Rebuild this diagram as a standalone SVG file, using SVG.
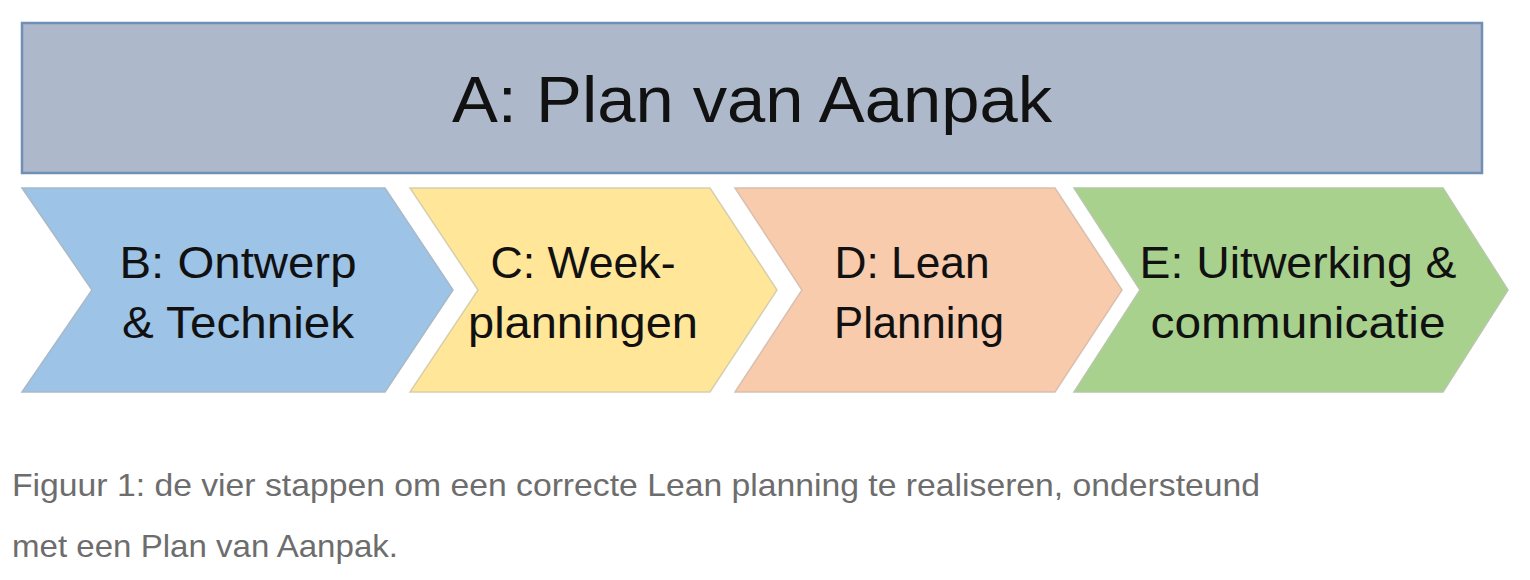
<svg xmlns="http://www.w3.org/2000/svg" width="1530" height="580" viewBox="0 0 1530 580">
<style>
.lbl{font-family:"Liberation Sans",Arial,sans-serif;font-size:45px;fill:#111;text-anchor:middle}
.title{font-family:"Liberation Sans",Arial,sans-serif;font-size:64px;fill:#111;text-anchor:middle}
.cap{font-family:"Liberation Sans",Arial,sans-serif;font-size:32px;fill:#6d6d6d}
.chev{stroke-width:1.5;stroke-linejoin:miter}
</style>
<rect width="1530" height="580" fill="#ffffff"/>
<g id="A">
<rect x="22" y="23" width="1460" height="150" fill="#adb9ca" stroke="#6f8fb5" stroke-width="2.5"/>
<text class="title" x="752" y="122" textLength="600" lengthAdjust="spacingAndGlyphs">A: Plan van Aanpak</text>
</g>
<g id="B">
<polygon class="chev" points="22,188 385,188 453,290 385,392 22,392 92,290" fill="#9dc3e6" stroke="#a9b9c9"/>
<text class="lbl" x="238" y="278" textLength="237" lengthAdjust="spacingAndGlyphs">B: Ontwerp</text>
<text class="lbl" x="238" y="338" textLength="232" lengthAdjust="spacingAndGlyphs">&amp; Techniek</text>
</g>
<g id="C">
<polygon class="chev" points="410,188 710,188 777,290 710,392 410,392 478,290" fill="#ffe699" stroke="#d6cfae"/>
<text class="lbl" x="583" y="278" textLength="185" lengthAdjust="spacingAndGlyphs">C: Week-</text>
<text class="lbl" x="583" y="338" textLength="230" lengthAdjust="spacingAndGlyphs">planningen</text>
</g>
<g id="D">
<polygon class="chev" points="735,188 1055,188 1122,290 1055,392 735,392 802,290" fill="#f8cbad" stroke="#d9bfae"/>
<text class="lbl" x="912" y="278" textLength="155" lengthAdjust="spacingAndGlyphs">D: Lean</text>
<text class="lbl" x="919" y="338" textLength="170" lengthAdjust="spacingAndGlyphs">Planning</text>
</g>
<g id="E">
<polygon class="chev" points="1074,188 1443,188 1508,290 1443,392 1074,392 1140,290" fill="#a9d18e" stroke="#b6c8a8"/>
<text class="lbl" x="1298" y="278" textLength="317" lengthAdjust="spacingAndGlyphs">E: Uitwerking &amp;</text>
<text class="lbl" x="1298" y="338" textLength="295" lengthAdjust="spacingAndGlyphs">communicatie</text>
</g>
<g id="connectors"></g>
<g id="caption">
<text class="cap" x="12" y="496" textLength="1248" lengthAdjust="spacingAndGlyphs">Figuur 1: de vier stappen om een correcte Lean planning te realiseren, ondersteund</text>
<text class="cap" x="12" y="557" textLength="386" lengthAdjust="spacingAndGlyphs">met een Plan van Aanpak.</text>
</g>
</svg>
